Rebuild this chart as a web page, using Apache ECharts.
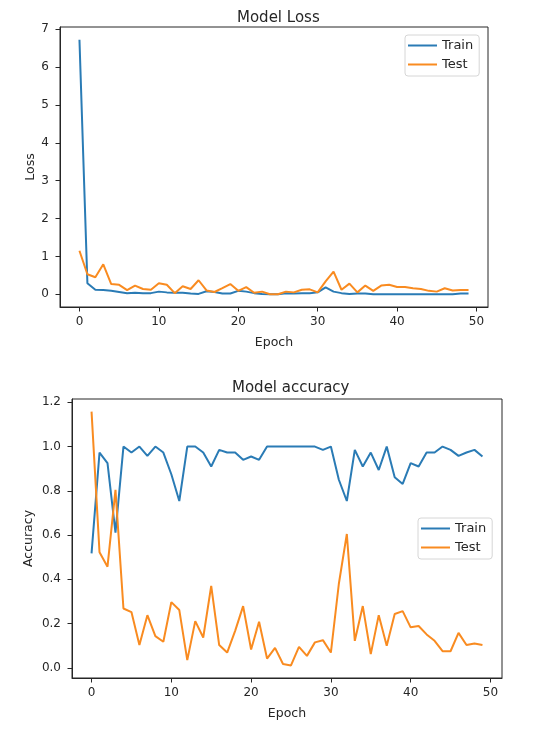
<!DOCTYPE html>
<html>
<head>
<meta charset="utf-8">
<script src="https://cdn.jsdelivr.net/npm/echarts@6/dist/echarts.min.js"></script>
<style>
html,body{margin:0;padding:0;background:#fff;}
#c{width:533px;height:741px;}
</style>
</head>
<body>
<div id="c"></div>
<script>
const epochs = Array.from({length: 50}, (_, i) => i);
const lossTrain = [6.72,0.29,0.12,0.11,0.09,0.06,0.03,0.04,0.03,0.03,
  0.07,0.05,0.04,0.04,0.02,0.01,0.08,0.06,0.02,0.02,
  0.09,0.07,0.03,0.01,0.0,0.0,0.03,0.02,0.03,0.03,
  0.05,0.18,0.07,0.03,0.01,0.02,0.02,0.0,0.0,0.0,
  0.0,0.0,0.0,0.0,0.0,0.0,0.0,0.0,0.02,0.02];
const lossTest = [1.15,0.53,0.45,0.79,0.27,0.25,0.11,0.23,0.14,0.12,
  0.29,0.25,0.03,0.21,0.14,0.37,0.10,0.06,0.16,0.27,
  0.09,0.19,0.04,0.07,0.0,0.0,0.07,0.05,0.12,0.13,
  0.05,0.34,0.60,0.12,0.28,0.05,0.23,0.09,0.23,0.25,
  0.19,0.19,0.16,0.14,0.09,0.07,0.16,0.10,0.11,0.11];
const accTrain = [0.517,0.973,0.925,0.611,1.0,0.973,1.0,0.958,1.0,0.973,
  0.875,0.754,1.0,1.0,0.973,0.91,0.985,0.973,0.973,0.94,
  0.955,0.94,1.0,1.0,1.0,1.0,1.0,1.0,1.0,0.985,
  1.0,0.85,0.754,0.985,0.91,0.973,0.894,1.0,0.861,0.831,
  0.925,0.91,0.973,0.973,1.0,0.985,0.958,0.973,0.985,0.955];
const accTest = [1.158,0.522,0.457,0.804,0.268,0.252,0.103,0.238,0.143,0.118,
  0.297,0.261,0.035,0.211,0.137,0.37,0.103,0.069,0.167,0.279,
  0.083,0.208,0.042,0.09,0.017,0.011,0.095,0.054,0.115,0.125,
  0.069,0.38,0.605,0.122,0.279,0.062,0.238,0.1,0.243,0.256,
  0.183,0.189,0.151,0.122,0.075,0.075,0.158,0.103,0.11,0.103];
const xTicks = [0,10,20,30,40,50];
const lossTicks = [0,1,2,3,4,5,6,7];
const accTicks = [0,0.2,0.4,0.6,0.8,1.0,1.2];

const BLUE = '#2a7bb5', ORANGE = '#f98b20';
const FONT = 'DejaVu Sans';
const TXT = '#262626';
const pairs = (xs, ys) => xs.map((x, i) => [x, ys[i]]);

function xAxis(gi) {
  return {
    type: 'value', gridIndex: gi, min: -2.45, max: 51.45,
    name: 'Epoch', nameLocation: 'middle', nameGap: 29,
    nameTextStyle: {fontFamily: FONT, fontSize: 12.5, color: TXT},
    axisLine: {show: true, onZero: false, lineStyle: {color: TXT, width: 1}},
    axisTick: {show: true, inside: false, length: 4.5, customValues: xTicks, lineStyle: {color: TXT}},
    axisLabel: {customValues: xTicks, fontFamily: FONT, fontSize: 12, color: TXT, margin: 9},
    splitLine: {show: false}
  };
}
function yAxis(gi, min, max, ticks, name, gap, fmt) {
  return {
    type: 'value', gridIndex: gi, min: min, max: max,
    name: name, nameLocation: 'middle', nameGap: gap, nameRotate: 90,
    nameMoveOverlap: false,
    nameTextStyle: {fontFamily: FONT, fontSize: 12.5, color: TXT},
    axisLine: {show: true, onZero: false, lineStyle: {color: TXT, width: 1}},
    axisTick: {show: true, inside: false, length: 4.5, customValues: ticks, lineStyle: {color: TXT}},
    axisLabel: {customValues: ticks, fontFamily: FONT, fontSize: 12, color: TXT, margin: 11, formatter: fmt},
    splitLine: {show: false}
  };
}
function legend(left, top) {
  return {
    left: left, top: top, orient: 'vertical',
    data: ['Train', 'Test'],
    icon: 'rect', itemWidth: 29, itemHeight: 2, itemGap: 6,
    textStyle: {fontFamily: FONT, fontSize: 13, color: TXT},
    borderColor: '#d6d6d6', borderWidth: 1, borderRadius: 3,
    padding: [4, 6, 5, 3], selectedMode: false
  };
}
function line(name, gi, data, color) {
  return {
    name: name, type: 'line', xAxisIndex: gi, yAxisIndex: gi,
    data: data, showSymbol: false, symbol: 'none', animation: false,
    lineStyle: {color: color, width: 2}, itemStyle: {color: color}
  };
}

const chart = echarts.init(document.getElementById('c'), null, {renderer: 'canvas'});
chart.setOption({
  backgroundColor: '#fff',
  animation: false,
  title: [
    {text: 'Model Loss', left: 232, top: 6,
     textStyle: {fontFamily: FONT, fontSize: 15, fontWeight: 'normal', color: TXT}},
    {text: 'Model accuracy', left: 227, top: 376,
     textStyle: {fontFamily: FONT, fontSize: 15, fontWeight: 'normal', color: TXT}}
  ],
  grid: [
    {left: 60, top: 27, width: 428, height: 280, show: true, borderColor: TXT, borderWidth: 1, backgroundColor: 'transparent'},
    {left: 72, top: 399, width: 430, height: 279, show: true, borderColor: TXT, borderWidth: 1, backgroundColor: 'transparent'}
  ],
  xAxis: [xAxis(0), xAxis(1)],
  yAxis: [
    yAxis(0, -0.336, 7.056, lossTicks, 'Loss', 23, v => String(v)),
    yAxis(1, -0.046, 1.215, accTicks, 'Accuracy', 37, v => v.toFixed(1))
  ],
  legend: [legend(405, 35), legend(418, 518)],
  series: [
    line('Train', 0, pairs(epochs, lossTrain), BLUE),
    line('Test', 0, pairs(epochs, lossTest), ORANGE),
    line('Train', 1, pairs(epochs, accTrain), BLUE),
    line('Test', 1, pairs(epochs, accTest), ORANGE)
  ]
});
</script>
</body>
</html>
